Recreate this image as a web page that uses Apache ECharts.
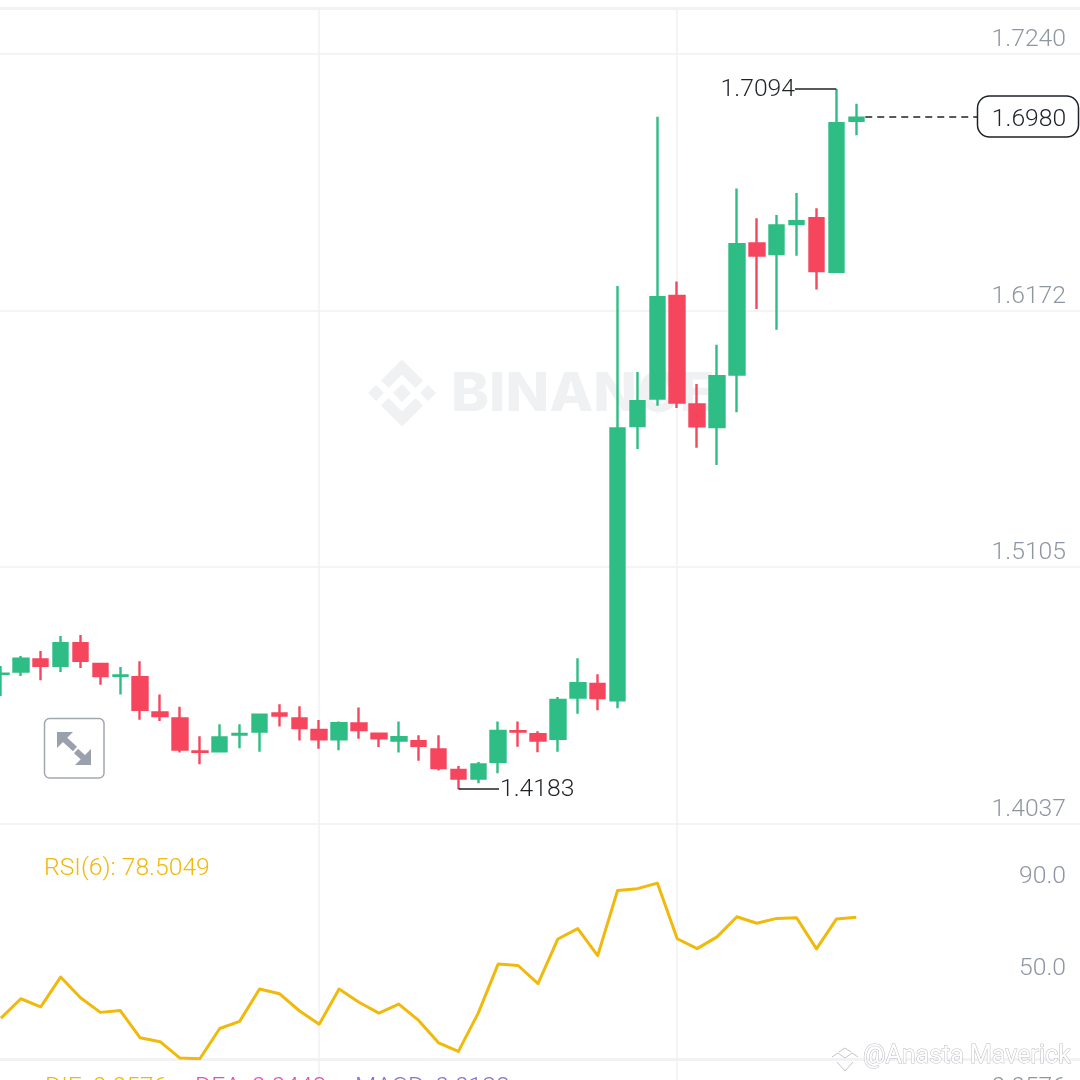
<!DOCTYPE html>
<html>
<head>
<meta charset="utf-8">
<style>
html, body { margin: 0; padding: 0; background: #fff; }
#chart { width: 1080px; height: 1080px; }
</style>
<script src="https://cdn.jsdelivr.net/npm/echarts@6/dist/echarts.min.js"></script>
</head>
<body>
<div id="chart"></div>
<script>
// K线数据
var opens = [1.4657, 1.4666, 1.4726, 1.4690, 1.4794, 1.4708, 1.4648, 1.4653, 1.4506, 1.4481, 1.4344, 1.4334, 1.4404, 1.4417, 1.4502, 1.4481, 1.4433, 1.4384, 1.4460, 1.4418, 1.4379, 1.4386, 1.4352, 1.4267, 1.4221, 1.4291, 1.4428, 1.4416, 1.4386, 1.4558, 1.4625, 1.4546, 1.5687, 1.5802, 1.6238, 1.5787, 1.5683, 1.5901, 1.6457, 1.6403, 1.6527, 1.6562, 1.6329, 1.6957];
var closes = [1.4667, 1.4730, 1.4690, 1.4794, 1.4711, 1.4647, 1.4660, 1.4507, 1.4481, 1.4342, 1.4332, 1.4402, 1.4417, 1.4497, 1.4483, 1.4431, 1.4384, 1.4461, 1.4423, 1.4388, 1.4403, 1.4357, 1.4265, 1.4221, 1.4290, 1.4429, 1.4417, 1.4379, 1.4558, 1.4628, 1.4556, 1.5687, 1.5801, 1.6233, 1.5785, 1.5686, 1.5905, 1.6454, 1.6396, 1.6532, 1.6549, 1.6332, 1.6957, 1.6980];
var lows = [1.4569, 1.4653, 1.4635, 1.4669, 1.4686, 1.4616, 1.4576, 1.4471, 1.4465, 1.4334, 1.4285, 1.4334, 1.4352, 1.4338, 1.4443, 1.4384, 1.4350, 1.4344, 1.4392, 1.4357, 1.4334, 1.4300, 1.4260, 1.4183, 1.4206, 1.4248, 1.4358, 1.4335, 1.4338, 1.4496, 1.4510, 1.4518, 1.5597, 1.5777, 1.5767, 1.5602, 1.5530, 1.5750, 1.6179, 1.6093, 1.6401, 1.6260, 1.6329, 1.6902];
var highs = [1.4694, 1.4736, 1.4757, 1.4819, 1.4823, 1.4708, 1.4690, 1.4714, 1.4576, 1.4525, 1.4402, 1.4452, 1.4452, 1.4497, 1.4535, 1.4527, 1.4470, 1.4463, 1.4522, 1.4418, 1.4463, 1.4406, 1.4406, 1.4278, 1.4295, 1.4463, 1.4463, 1.4423, 1.4565, 1.4726, 1.4660, 1.6275, 1.5917, 1.6979, 1.6293, 1.5867, 1.6030, 1.6680, 1.6557, 1.6570, 1.6662, 1.6598, 1.7094, 1.7033];
// RSI(6)
var rsiValues = [34.8, 43.2, 39.7, 52.6, 43.6, 37.3, 38.1, 26.3, 24.6, 17.5, 17.2, 30.3, 33.4, 47.4, 45.4, 38.0, 32.2, 47.4, 41.7, 37.0, 40.9, 33.8, 24.1, 20.4, 37.1, 58.3, 57.6, 49.8, 69.1, 73.6, 61.9, 90.1, 90.9, 93.3, 69.2, 64.9, 70.0, 78.7, 75.9, 78.0, 78.3, 64.8, 77.7, 78.5];
// 刻度
var priceTicks = [1.4037, 1.5105, 1.6172, 1.7240];
var rsiTicks = [50, 90];
var macdTicks = [0.0576];
// 竖线所在的K线序号
var vLineSlots = [16, 34];
// 右侧留白的空位
var blankSlots = 11;

var categories = [];
for (var i = 0; i < opens.length + blankSlots; i++) {
	categories.push(String(i + 1));
}
// 实体的描边会外扩半个线宽，这里向内收回
var bodyInset = 0.0005;
var candleData = opens.map(function (o, i) {
	var c = closes[i];
	var inset = Math.min(bodyInset, Math.abs(c - o) / 2 - 0.00001);
	return c >= o ? [o + inset, c - inset, lows[i], highs[i]] : [o - inset, c + inset, lows[i], highs[i]];
});

var UP = "#2ebd85", DOWN = "#f6465d", LINE = "#eff0f2", LABEL = "#8f96a3", DARK = "#1e2329", GOLD = "#f0b90b";
var FONT = "Roboto";
var TEXT_SIZE = 24.7;

var myChart = echarts.init(document.getElementById("chart"));

function vLines() {
	return {
		silent: true,
		symbol: "none",
		z: 1,
		label: { show: false },
		lineStyle: { color: LINE, width: 1.5, type: "solid" },
		data: vLineSlots.map(function (s) { return { xAxis: s }; })
	};
}
function xAxisOf(gridIndex, lineWidth) {
	return {
		type: "category",
		gridIndex: gridIndex,
		data: categories,
		position: "top",
		axisLine: { show: lineWidth > 0, onZero: false, lineStyle: { color: "#f1f2f4", width: lineWidth } },
		axisTick: { show: false },
		axisLabel: { show: false },
		splitLine: { show: false }
	};
}
function yAxisOf(gridIndex, min, max, ticks, digits, showSplit) {
	return {
		type: "value",
		gridIndex: gridIndex,
		position: "right",
		min: min,
		max: max,
		axisLine: { show: false },
		axisTick: { show: false, customValues: ticks },
		splitLine: { show: showSplit, lineStyle: { color: LINE, width: 1.5 } },
		axisLabel: {
			inside: true,
			customValues: ticks,
			margin: 19,
			color: LABEL,
			fontFamily: FONT,
			fontWeight: 300,
			fontSize: TEXT_SIZE,
			lineHeight: 28,
			verticalAlign: "bottom",
			formatter: function (v) { return v.toFixed(digits); }
		}
	};
}

var option = {
	animation: false,
	backgroundColor: "#fff",
	grid: [
		{ left: -9, width: 1094, top: 8, height: 816, outerBoundsMode: "none" },
		{ left: -9, width: 1094, top: 824, height: 235, outerBoundsMode: "none" },
		{ left: -9, width: 1094, top: 1059, height: 100, outerBoundsMode: "none" }
	],
	xAxis: [xAxisOf(0, 3), xAxisOf(1, 0), xAxisOf(2, 3)],
	yAxis: [
		yAxisOf(0, 1.4037, 1.7431, priceTicks, 4, true),
		yAxisOf(1, 17.1, 118.9, rsiTicks, 1, false),
		yAxisOf(2, 0, 0.1, macdTicks, 4, false)
	],
	series: [
		{
			name: "K",
			type: "candlestick",
			xAxisIndex: 0,
			yAxisIndex: 0,
			barWidth: 15,
			data: candleData,
			itemStyle: {
				color: UP,
				color0: DOWN,
				borderColor: UP,
				borderColor0: DOWN,
				borderWidth: 2.4
			},
			markLine: vLines()
		},
		{
			name: "RSI(6)",
			type: "line",
			xAxisIndex: 1,
			yAxisIndex: 1,
			data: rsiValues,
			symbol: "none",
			lineStyle: { color: GOLD, width: 3, join: "round" },
			markLine: vLines()
		},
		{
			name: "MACD",
			type: "line",
			xAxisIndex: 2,
			yAxisIndex: 2,
			data: [],
			symbol: "none",
			markLine: vLines()
		}
	]
};
myChart.setOption(option);

// 标注：最高、最低、最新价
function toPx(slot, value) {
	return myChart.convertToPixel({ xAxisIndex: 0, yAxisIndex: 0 }, [slot, value]);
}
function seg(x1, y1, x2, y2, color, width, dash, z) {
	return {
		type: "line",
		z: z || 20,
		silent: true,
		shape: { x1: x1, y1: y1, x2: x2, y2: y2 },
		style: { stroke: color, lineWidth: width, lineDash: dash || null }
	};
}
function label(text, x, y, color, align) {
	return {
		type: "text",
		z: 20,
		silent: true,
		x: x,
		y: y + 2,
		style: {
			text: text,
			fill: color,
			font: "300 " + TEXT_SIZE + "px " + FONT,
			align: align || "left",
			verticalAlign: "middle"
		}
	};
}
function poly(points, fill, z) {
	return { type: "polygon", z: z, silent: true, shape: { points: points }, style: { fill: fill } };
}
function logoPart(points) {
	return poly(points.map(function (p) { return [402 + p[0], 393 + p[1]]; }), "#f0f1f2", -1);
}

var maxHigh = Math.max.apply(null, highs);
var minLow = Math.min.apply(null, lows);
var hiPx = toPx(highs.indexOf(maxHigh), maxHigh);
var loPx = toPx(lows.indexOf(minLow), minLow);
var lastClose = closes[closes.length - 1];
var lastPx = toPx(closes.length - 1, lastClose);

var elements = [
	// 水印
	logoPart([[0, -33.5], [21, -12.5], [13.5, -5], [0, -18.5], [-13.5, -5], [-21, -12.5]]),
	logoPart([[0, 33.5], [21, 12.5], [13.5, 5], [0, 18.5], [-13.5, 5], [-21, 12.5]]),
	logoPart([[0, -9], [9, 0], [0, 9], [-9, 0]]),
	logoPart([[-26, -8], [-18, 0], [-26, 8], [-34, 0]]),
	logoPart([[26, -8], [34, 0], [26, 8], [18, 0]]),
	{
		type: "text",
		z: -1,
		silent: true,
		x: 451,
		y: 395,
		scaleX: 1.08,
		style: { text: "BINANCE", fill: "#f0f1f2", font: "800 53px Inter", verticalAlign: "middle" }
	},
	// 最高价
	seg(hiPx[0], hiPx[1], 795, hiPx[1], DARK, 1.5),
	label(String(maxHigh.toFixed(4)), 795, 88, DARK, "right"),
	// 最低价
	seg(loPx[0], loPx[1], 499, loPx[1], DARK, 1.5),
	label(String(minLow.toFixed(4)), 500, 788, DARK, "left"),
	// 最新价
	seg(lastPx[0] + 9, lastPx[1] + 0.5, 977, lastPx[1] + 0.5, DARK, 1.5, [7, 5]),
	{
		type: "rect",
		z: 20,
		silent: true,
		shape: { x: 977.5, y: 96, width: 101, height: 41, r: 12 },
		style: { fill: "#fff", stroke: DARK, lineWidth: 1.5 }
	},
	label(lastClose.toFixed(4), 1029, 118, DARK, "center"),
	// 放大按钮
	{
		type: "rect",
		z: 20,
		silent: true,
		shape: { x: 44.5, y: 718.5, width: 59.5, height: 59.5, r: 5 },
		style: { fill: "#fff", stroke: "#a2a8b2", lineWidth: 1.5 }
	},
	poly([[57, 732], [73, 732], [57, 748]], "#9aa1ad", 21),
	poly([[91, 765], [75, 765], [91, 749]], "#9aa1ad", 21),
	seg(62, 737, 75, 749, "#9aa1ad", 6, null, 21),
	seg(87, 761, 76, 751, "#9aa1ad", 6, null, 21),
	// 指标文字
	label("RSI(6): 78.5049", 44, 867, GOLD),
	label("DIF: 0.0576", 45, 1086, GOLD),
	label("DEA: 0.0448", 195, 1086, "#e84fb5"),
	label("MACD: 0.0128", 355, 1086, "#8f6fd0"),
	// 右下角水印
	{
		type: "polyline",
		z: 30,
		silent: true,
		shape: { points: [[832, 1057], [838, 1053], [845, 1058], [852, 1053], [858, 1057]] },
		style: { fill: "none", stroke: "#c2c4c8", lineWidth: 1 }
	},
	{
		type: "polyline",
		z: 30,
		silent: true,
		shape: { points: [[837, 1062], [845, 1071], [853, 1062]] },
		style: { fill: "none", stroke: "#c2c4c8", lineWidth: 1 }
	},
	{
		type: "polyline",
		z: 30,
		silent: true,
		shape: { points: [[839, 1052], [845, 1048], [851, 1052]] },
		style: { fill: "none", stroke: "#c2c4c8", lineWidth: 1 }
	},
	{
		type: "text",
		z: 30,
		silent: true,
		x: 863,
		y: 1057,
		style: {
			text: "@Anasta Maverick",
			fill: "#fff",
			stroke: "#b9bbc0",
			lineWidth: 1,
			font: "25px " + FONT,
			verticalAlign: "middle"
		}
	}
];
myChart.setOption({ graphic: { elements: elements } });

window.addEventListener("resize", function () {
	myChart.resize();
});
</script>
</body>
</html>
